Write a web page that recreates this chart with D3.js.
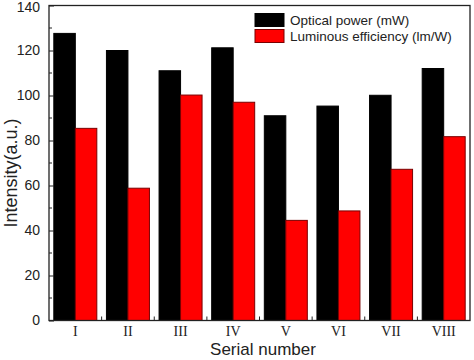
<!DOCTYPE html>
<html>
<head>
<meta charset="utf-8">
<script src="https://cdn.jsdelivr.net/npm/d3@7"></script>
<style>
  body { margin: 0; background: #fff; }
  svg { display: block; font-family: Arial, "Liberation Sans", sans-serif; }
</style>
</head>
<body>
<div id="chart"></div>
<script>
var categories = ["I", "II", "III", "IV", "V", "VI", "VII", "VIII"];
var opticalPower = [127.6, 120, 111, 121.2, 91, 95.3, 100.1, 112];
var luminousEff = [85.4, 58.8, 100.2, 97, 44.5, 48.7, 67.2, 81.7];
var seriesNames = ["Optical power (mW)", "Luminous efficiency (lm/W)"];
var seriesColors = ["#000000", "#ff0000"];
var yTicks = [0, 20, 40, 60, 80, 100, 120, 140];

var width = 474, height = 360;
var margin = {top: 5.5, right: 4, bottom: 39.5, left: 49};
var w = width - margin.left - margin.right,
    h = height - margin.top - margin.bottom;

var svg = d3.select("#chart").append("svg")
  .attr("width", width).attr("height", height);
var g = svg.append("g")
  .attr("transform", "translate(" + margin.left + "," + margin.top + ")");

var x = d3.scaleBand().domain(categories).range([0, w]).paddingInner(0).paddingOuter(0);
var y = d3.scaleLinear().domain([0, 140]).range([h, 0]);

var barW = 21.5;
var data = categories.map(function(c, i) {
  return {cat: c, vals: [opticalPower[i], luminousEff[i]]};
});

// bars
var groups = g.selectAll(".grp").data(data).enter().append("g")
  .attr("transform", function(d) { return "translate(" + (x(d.cat) + x.bandwidth() / 2 - barW) + ",0)"; });
groups.selectAll("rect").data(function(d) { return d.vals; }).enter().append("rect")
  .attr("x", function(d, i) { return i * barW; })
  .attr("y", function(d) { return y(d); })
  .attr("width", barW)
  .attr("height", function(d) { return h - y(d); })
  .attr("fill", function(d, i) { return seriesColors[i]; })
  .attr("stroke", function(d, i) { return i ? "#7a0000" : "#000"; })
  .attr("stroke-width", 1);

// frame
g.append("rect").attr("width", w).attr("height", h)
  .attr("fill", "none").attr("stroke", "#222").attr("stroke-width", 1.3);

// y axis: inward ticks with minors
var yAxis = d3.axisLeft(y).tickValues(yTicks).tickSize(-5).tickPadding(9).tickSizeOuter(0);
var ya = g.append("g").call(yAxis);
ya.select(".domain").remove();
ya.selectAll("text").attr("font-size", 14).attr("fill", "#222")
  .attr("font-family", "Arial, 'Liberation Sans', sans-serif")
  .attr("dy", function(d) { return d === 140 ? "0.42em" : "0.32em"; });
ya.selectAll("line").attr("stroke", "#222");
g.selectAll(".yminor").data(d3.range(10, 140, 20)).enter().append("line")
  .attr("x1", 0).attr("x2", 3)
  .attr("y1", function(d) { return y(d); }).attr("y2", function(d) { return y(d); })
  .attr("stroke", "#222");

// x axis: labels centered, ticks at group boundaries
var xAxis = d3.axisBottom(x).tickSize(0).tickPadding(6);
var xa = g.append("g").attr("transform", "translate(0," + h + ")").call(xAxis);
xa.select(".domain").remove();
xa.selectAll("text").attr("font-size", 14).attr("fill", "#222")
  .attr("font-family", "'Liberation Serif', 'Times New Roman', serif");
g.selectAll(".xtick").data(categories.slice(1)).enter().append("line")
  .attr("x1", function(d) { return x(d); }).attr("x2", function(d) { return x(d); })
  .attr("y1", h).attr("y2", h - 4)
  .attr("stroke", "#222");

// axis titles
svg.append("text")
  .attr("x", 263).attr("y", 355)
  .attr("text-anchor", "middle").attr("font-size", 17).attr("fill", "#222")
  .text("Serial number");
svg.append("text")
  .attr("transform", "translate(17,173) rotate(-90)")
  .attr("text-anchor", "middle").attr("font-size", 18).attr("fill", "#222")
  .text("Intensity(a.u.)");

// legend
var legend = g.append("g").attr("transform", "translate(206,8)");
seriesNames.forEach(function(name, i) {
  legend.append("rect").attr("x", 0).attr("y", i * 16)
    .attr("width", 29).attr("height", 13)
    .attr("fill", seriesColors[i]).attr("stroke", i ? "#7a0000" : "#000");
  legend.append("text").attr("x", 35).attr("y", i * 16 + 11)
    .attr("font-size", 13.5).attr("fill", "#222").text(name);
});
</script>
</body>
</html>
